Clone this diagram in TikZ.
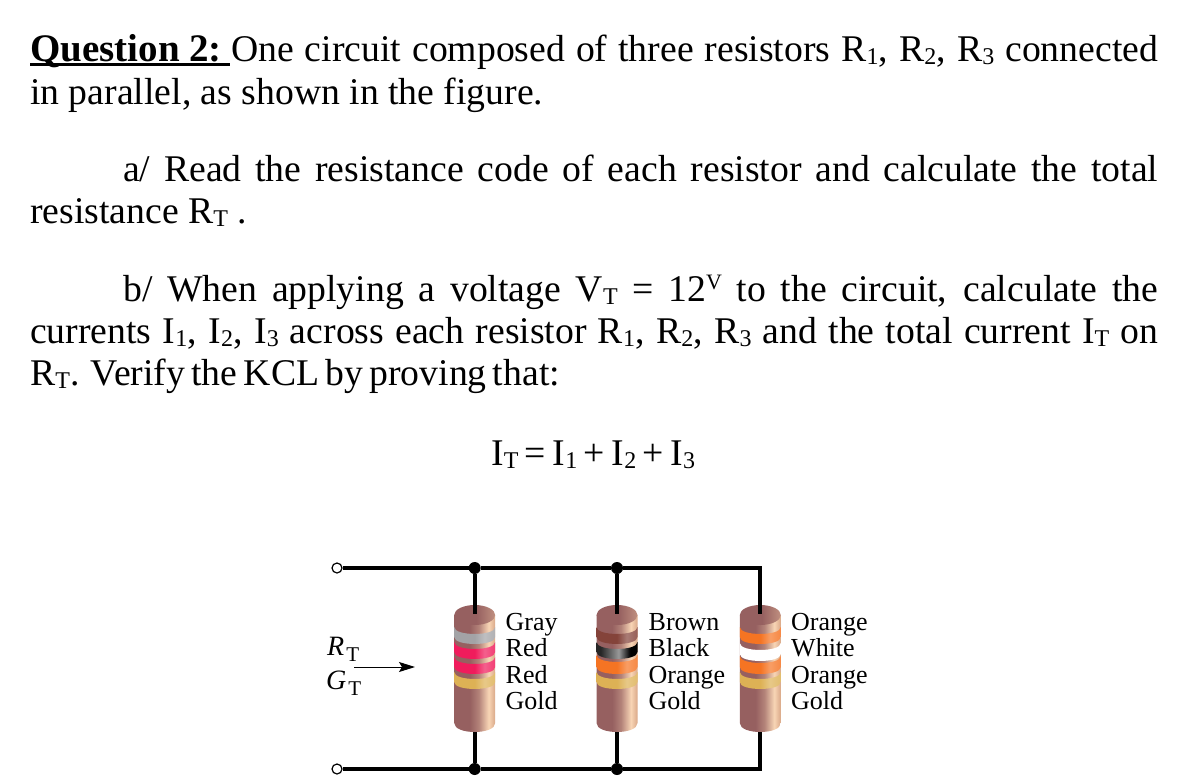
\documentclass[tikz,border=0pt]{standalone}
\usepackage{fontspec}
\setmainfont{Liberation Serif}
\usetikzlibrary{arrows.meta}

\definecolor{bodyc}{HTML}{966060}
\definecolor{lightc}{HTML}{F8D5B5}
\definecolor{edgec}{HTML}{D9A888}
\definecolor{capc}{HTML}{C09080}
\definecolor{goldc}{HTML}{DDB155}
\definecolor{grayc}{HTML}{A3A3A6}
\definecolor{redc}{HTML}{F01C5C}
\definecolor{brownc}{HTML}{84433A}
\definecolor{orangec}{HTML}{F57423}
\colorlet{bandc}{goldc}

\pgfdeclarehorizontalshading{bodyshade}{100bp}{color(0bp)=(bodyc); color(44bp)=(bodyc); color(55bp)=(bodyc!70!lightc); color(67bp)=(lightc); color(75bp)=(edgec); color(100bp)=(edgec)}
\pgfdeclarehorizontalshading{capshade}{100bp}{color(0bp)=(bodyc); color(52bp)=(bodyc); color(75bp)=(capc); color(100bp)=(capc)}
\pgfdeclarehorizontalshading[bandc]{bandshade}{100bp}{color(0bp)=(bandc); color(50bp)=(bandc); color(62bp)=(bandc!70!white); color(75bp)=(bandc!85!white); color(100bp)=(bandc!85!white)}
\pgfdeclarehorizontalshading{blackshade}{100bp}{color(0bp)=(black!85!white); color(30bp)=(black!85!white); color(52bp)=(black!40!white); color(66bp)=(black); color(100bp)=(black)}

\tikzset{
  txtline/.style={anchor=base west,inner sep=0,font=\fontsize{37.7}{38}\selectfont},
  wire/.style={line width=4pt},
  joint/.style={circle,fill=black,inner sep=0,minimum size=12pt},
  term/.style={circle,draw=black,fill=white,line width=1.2pt,inner sep=0,minimum size=10pt},
  collabel/.style={anchor=north west,inner sep=0,align=left,font=\fontsize{26}{26.4}\selectfont},
  greek/.style={anchor=base west,inner sep=0,font=\fontsize{28}{28}\selectfont}
}

\newcommand{\sjust}[2]{\makebox[#1pt][s]{#2}}
\newcommand{\lowt}[1]{\raisebox{-6pt}{\fontsize{21}{21}\selectfont #1}}
\newcommand{\sbs}[1]{\raisebox{-3pt}{\fontsize{24}{24}\selectfont #1}}
\newcommand{\sps}[1]{\raisebox{12pt}{\fontsize{22}{22}\selectfont #1}}

\begin{document}
\begin{tikzpicture}
  [x=1pt,y=-1pt]
  \useasboundingbox (0,0) rectangle (1203,780);

  \node[txtline,font=\fontsize{39}{39}\selectfont] (q0) at (30,61) {\textbf{Question 2:}};
  \draw[line width=2.6pt] (30,64.5) -- (230,64.5);
  \node[txtline] (l1) at (231,61) {\sjust{927}{One circuit composed of three resistors R\sbs{1}, R\sbs{2}, R\sbs{3} connected}};
  \node[txtline] (l2) at (30,104) {in parallel, as shown in the figure.};
  \node[txtline] (l3) at (123,181) {\sjust{1035}{a/ Read the resistance code of each resistor and calculate the total}};
  \node[txtline] (l4) at (30,223) {resistance R\sbs{T} .};
  \node[txtline] (l5) at (123,301) {\sjust{1035}{b/ When applying a voltage V\sbs{T} = 12\sps{V} to the circuit, calculate the}};
  \node[txtline] (l6) at (30,343) {\sjust{1128}{currents I\sbs{1}, I\sbs{2}, I\sbs{3} across each resistor R\sbs{1}, R\sbs{2}, R\sbs{3} and the total current I\sbs{T} on}};
  \node[txtline] (l7) at (30,385) {\sjust{522}{R\sbs{T}. Verify the KCL by proving that:}};
  \node[txtline] (eq) at (491,465) {\sjust{204}{I\sbs{T} = I\sbs{1} + I\sbs{2} + I\sbs{3}}};

  % resistor bodies
  \foreach \x/\n in {474.7/1,617/2,760.3/3} {
    \shade[shading=bodyshade] (\x-20.5,615) -- (\x-20.5,723)
      .. controls (\x-20.5,735) and (\x+20.5,735) .. (\x+20.5,723) -- (\x+20.5,615) -- cycle;
    \shade[shading=capshade] (\x,615) ellipse [x radius=20.5,y radius=10];
    \coordinate (rt\n) at (\x,614);
    \coordinate (rb\n) at (\x,732);
  }

  % colour bands
  \foreach \x/\t/\b/\c in {
    474.7/627/637/grayc,474.7/642/652/redc,474.7/657/667/redc,474.7/672/682/goldc,
    617/627/637/brownc,617/655/667/orangec,617/672/682/goldc,
    760.3/627/637/orangec,760.3/656/667/orangec,760.3/672/682/goldc} {
    \colorlet{bandc}{\c}
    \shade[shading=bandshade] (\x-20.5,\t) .. controls (\x-20.5,\t+9.3) and (\x+20.5,\t+9.3) .. (\x+20.5,\t)
      -- (\x+20.5,\b) .. controls (\x+20.5,\b+9.3) and (\x-20.5,\b+9.3) .. (\x-20.5,\b) -- cycle;
  }
  \shade[shading=blackshade] (596.5,642) .. controls (596.5,651.3) and (637.5,651.3) .. (637.5,642)
    -- (637.5,652) .. controls (637.5,661.3) and (596.5,661.3) .. (596.5,652) -- cycle;
  \fill[white] (739.8,643) .. controls (739.8,652.3) and (780.8,652.3) .. (780.8,643)
    -- (780.8,654) .. controls (780.8,663.3) and (739.8,663.3) .. (739.8,654) -- cycle;

  % wires
  \node[joint] (j1) at (474.7,568) {};
  \node[joint] (j2) at (617,568) {};
  \node[joint] (j3) at (474.7,769) {};
  \node[joint] (j4) at (617,769) {};
  \coordinate (c1) at (760.3,568);
  \coordinate (c2) at (760.3,769);
  \node[term] (a) at (337,568) {};
  \node[term] (b) at (337,769) {};

  \draw[wire] (a) -- (j1);
  \draw[wire] (j1) -- (j2);
  \draw[wire,line join=miter] (j2) -- (c1) -- (rt3);
  \draw[wire] (b) -- (j3);
  \draw[wire] (j3) -- (j4);
  \draw[wire,line join=miter] (j4) -- (c2) -- (rb3);
  \draw[wire] (j1) -- (rt1);
  \draw[wire] (j2) -- (rt2);
  \draw[wire] (j3) -- (rb1);
  \draw[wire] (j4) -- (rb2);

  % labels
  \node[collabel] (g1) at (505.5,613) {Gray\\Red\\Red\\Gold};
  \node[collabel] (g2) at (648.5,613) {Brown\\Black\\Orange\\Gold};
  \node[collabel] (g3) at (791,613) {Orange\\White\\Orange\\Gold};

  \node[greek] (rt) at (327,655) {\textit{R}\hspace{2pt}\lowt{T}};
  \node[greek] (gt) at (326,689) {\textit{G}\hspace{2pt}\lowt{T}};
  \coordinate (p1) at (354,667);
  \coordinate (p2) at (415,667);
  \draw[-{Stealth[length=16pt,width=10pt,inset=3pt]},line width=0.9pt] (p1) -- (p2);
\end{tikzpicture}
\end{document}
